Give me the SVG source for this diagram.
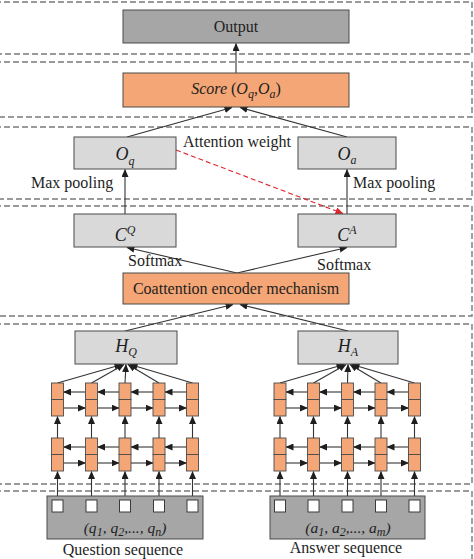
<svg xmlns="http://www.w3.org/2000/svg" width="474" height="559" viewBox="0 0 474 559">
<defs>
<marker id="ah" markerUnits="userSpaceOnUse" markerWidth="8" markerHeight="7" refX="7.5" refY="3.5" orient="auto">
<path d="M0,0 L8,3.5 L0,7 z" fill="#1e1e1e"/>
</marker>
<marker id="ahr" markerUnits="userSpaceOnUse" markerWidth="8" markerHeight="7" refX="7.5" refY="3.5" orient="auto">
<path d="M0,0 L8,3.5 L0,7 z" fill="#e0242c"/>
</marker>
</defs>
<style>
.band{fill:none;stroke:#7a7a7a;stroke-width:1.4;stroke-dasharray:6 3}
.dark{fill:#a6a6a6;stroke:#4a4a4a;stroke-width:1}
.light{fill:#d9d9d9;stroke:#4a4a4a;stroke-width:1}
.orange{fill:#f4a676;stroke:#4a4a4a;stroke-width:1}
.cell{fill:#f4a676;stroke:#4a4a4a;stroke-width:0.9}
.sq{fill:#ffffff;stroke:#3a3a3a;stroke-width:1}
.t{font-family:"Liberation Serif","Times New Roman",serif;font-size:16px;fill:#1e1e1e}
.big{font-size:18px}
.inp{font-size:15.5px}
.sub{font-size:12px}
.i{font-style:italic}
.c{text-anchor:middle}
.a{stroke:#333;stroke-width:1.1;fill:none;marker-end:url(#ah)}
.r{stroke:#e0242c;stroke-width:1.1;fill:none;stroke-dasharray:5 3;marker-end:url(#ahr)}
</style>
<rect width="474" height="559" fill="#ffffff"/>
<g id="bands">
<rect class="band" x="-5" y="2" width="477" height="52"/>
<rect class="band" x="-5" y="62" width="477" height="55"/>
<rect class="band" x="-5" y="127" width="477" height="72"/>
<rect class="band" x="-5" y="206" width="477" height="110"/>
<rect class="band" x="-5" y="324" width="477" height="160"/>
<rect class="band" x="-5" y="491" width="477" height="80"/>
</g>
<g id="connectors">
<line class="a" x1="236" y1="73" x2="236" y2="43.5"/>
<line class="a" x1="127" y1="137" x2="232" y2="107.5"/>
<line class="a" x1="347" y1="137" x2="240" y2="107.5"/>
<line class="a" x1="125" y1="214" x2="125" y2="169.5"/>
<line class="a" x1="347" y1="214" x2="347" y2="169.5"/>
<line class="r" x1="176" y1="150" x2="343" y2="213.5"/>
<line class="a" x1="237" y1="273" x2="127" y2="247.5"/>
<line class="a" x1="237" y1="273" x2="347" y2="247.5"/>
<line class="a" x1="125" y1="331" x2="233" y2="304.5"/>
<line class="a" x1="348" y1="331" x2="240" y2="304.5"/>
<g id="lstm-q-links">
<line class="a" x1="57.5" y1="383" x2="122" y2="364.5"/>
<line class="a" x1="91.5" y1="383" x2="124" y2="364.5"/>
<line class="a" x1="125" y1="383" x2="126" y2="364.5"/>
<line class="a" x1="159" y1="383" x2="128" y2="364.5"/>
<line class="a" x1="192.5" y1="383" x2="130" y2="364.5"/>
<line class="a" x1="85.5" y1="392" x2="63.5" y2="392"/>
<line class="a" x1="119" y1="392" x2="97.5" y2="392"/>
<line class="a" x1="153" y1="392" x2="131" y2="392"/>
<line class="a" x1="186.5" y1="392" x2="165" y2="392"/>
<line class="a" x1="63.5" y1="408" x2="85.5" y2="408"/>
<line class="a" x1="97.5" y1="408" x2="119" y2="408"/>
<line class="a" x1="131" y1="408" x2="153" y2="408"/>
<line class="a" x1="165" y1="408" x2="186.5" y2="408"/>
<line class="a" x1="85.5" y1="447" x2="63.5" y2="447"/>
<line class="a" x1="119" y1="447" x2="97.5" y2="447"/>
<line class="a" x1="153" y1="447" x2="131" y2="447"/>
<line class="a" x1="186.5" y1="447" x2="165" y2="447"/>
<line class="a" x1="63.5" y1="463" x2="85.5" y2="463"/>
<line class="a" x1="97.5" y1="463" x2="119" y2="463"/>
<line class="a" x1="131" y1="463" x2="153" y2="463"/>
<line class="a" x1="165" y1="463" x2="186.5" y2="463"/>
<line class="a" x1="57.5" y1="438" x2="57.5" y2="416.5"/>
<line class="a" x1="91.5" y1="438" x2="91.5" y2="416.5"/>
<line class="a" x1="125" y1="438" x2="125" y2="416.5"/>
<line class="a" x1="159" y1="438" x2="159" y2="416.5"/>
<line class="a" x1="192.5" y1="438" x2="192.5" y2="416.5"/>
<line class="a" x1="57.5" y1="500" x2="57.5" y2="471.5"/>
<line class="a" x1="91.5" y1="500" x2="91.5" y2="471.5"/>
<line class="a" x1="125" y1="500" x2="125" y2="471.5"/>
<line class="a" x1="159" y1="500" x2="159" y2="471.5"/>
<line class="a" x1="192.5" y1="500" x2="192.5" y2="471.5"/>
</g>
<g id="lstm-a-links">
<line class="a" x1="280" y1="383" x2="344" y2="364.5"/>
<line class="a" x1="313.5" y1="383" x2="346" y2="364.5"/>
<line class="a" x1="347.5" y1="383" x2="348" y2="364.5"/>
<line class="a" x1="381" y1="383" x2="350" y2="364.5"/>
<line class="a" x1="414.5" y1="383" x2="352" y2="364.5"/>
<line class="a" x1="307.5" y1="392" x2="286" y2="392"/>
<line class="a" x1="341.5" y1="392" x2="319.5" y2="392"/>
<line class="a" x1="375" y1="392" x2="353.5" y2="392"/>
<line class="a" x1="408.5" y1="392" x2="387" y2="392"/>
<line class="a" x1="286" y1="408" x2="307.5" y2="408"/>
<line class="a" x1="319.5" y1="408" x2="341.5" y2="408"/>
<line class="a" x1="353.5" y1="408" x2="375" y2="408"/>
<line class="a" x1="387" y1="408" x2="408.5" y2="408"/>
<line class="a" x1="307.5" y1="447" x2="286" y2="447"/>
<line class="a" x1="341.5" y1="447" x2="319.5" y2="447"/>
<line class="a" x1="375" y1="447" x2="353.5" y2="447"/>
<line class="a" x1="408.5" y1="447" x2="387" y2="447"/>
<line class="a" x1="286" y1="463" x2="307.5" y2="463"/>
<line class="a" x1="319.5" y1="463" x2="341.5" y2="463"/>
<line class="a" x1="353.5" y1="463" x2="375" y2="463"/>
<line class="a" x1="387" y1="463" x2="408.5" y2="463"/>
<line class="a" x1="280" y1="438" x2="280" y2="416.5"/>
<line class="a" x1="313.5" y1="438" x2="313.5" y2="416.5"/>
<line class="a" x1="347.5" y1="438" x2="347.5" y2="416.5"/>
<line class="a" x1="381" y1="438" x2="381" y2="416.5"/>
<line class="a" x1="414.5" y1="438" x2="414.5" y2="416.5"/>
<line class="a" x1="280" y1="500" x2="280" y2="471.5"/>
<line class="a" x1="313.5" y1="500" x2="313.5" y2="471.5"/>
<line class="a" x1="347.5" y1="500" x2="347.5" y2="471.5"/>
<line class="a" x1="381" y1="500" x2="381" y2="471.5"/>
<line class="a" x1="414.5" y1="500" x2="414.5" y2="471.5"/>
</g>
</g>
<g id="output">
<rect class="dark" x="123" y="10" width="226" height="33"/>
<text class="t c" x="236" y="31.5">Output</text>
</g>
<g id="score">
<rect class="orange" x="123" y="73" width="226" height="34"/>
<text class="t c" x="236" y="94"><tspan class="i">Score</tspan> (<tspan class="i">O</tspan><tspan class="i sub" dy="4">q</tspan><tspan dy="-4">,</tspan><tspan class="i">O</tspan><tspan class="i sub" dy="4">a</tspan><tspan dy="-4">)</tspan></text>
</g>
<g id="oq">
<rect class="light" x="74" y="137" width="102" height="32"/>
<text class="t c big" x="125" y="159.5"><tspan class="i">O</tspan><tspan class="i sub" dy="5">q</tspan></text>
</g>
<g id="oa">
<rect class="light" x="298" y="137" width="98" height="32"/>
<text class="t c big" x="347" y="159.5"><tspan class="i">O</tspan><tspan class="i sub" dy="4">a</tspan></text>
</g>
<g id="cq">
<rect class="light" x="74" y="214" width="102" height="33"/>
<text class="t c big" x="125" y="240.5"><tspan class="i">C</tspan><tspan class="i sub" dy="-7">Q</tspan></text>
</g>
<g id="ca">
<rect class="light" x="298" y="214" width="98" height="33"/>
<text class="t c big" x="347" y="240.5"><tspan class="i">C</tspan><tspan class="i sub" dy="-7">A</tspan></text>
</g>
<g id="coattention">
<rect class="orange" x="123" y="273" width="226" height="31"/>
<text class="t c" x="236" y="294">Coattention encoder mechanism</text>
</g>
<g id="hq">
<rect class="light" x="75" y="331" width="102" height="33"/>
<text class="t c big" x="126" y="352"><tspan class="i">H</tspan><tspan class="i sub" dy="4">Q</tspan></text>
</g>
<g id="ha">
<rect class="light" x="298" y="331" width="100" height="33"/>
<text class="t c big" x="348" y="352"><tspan class="i">H</tspan><tspan class="i sub" dy="4">A</tspan></text>
</g>
<g id="labels">
<text class="t" x="183" y="147">Attention weight</text>
<text class="t" x="31" y="188">Max pooling</text>
<text class="t" x="353" y="188">Max pooling</text>
<text class="t" x="128" y="266">Softmax</text>
<text class="t" x="317" y="270">Softmax</text>
</g>
<g id="lstm-q">
<rect class="cell" x="51.5" y="383" width="12" height="16.5"/><rect class="cell" x="51.5" y="399.5" width="12" height="16.5"/>
<rect class="cell" x="85.5" y="383" width="12" height="16.5"/><rect class="cell" x="85.5" y="399.5" width="12" height="16.5"/>
<rect class="cell" x="119" y="383" width="12" height="16.5"/><rect class="cell" x="119" y="399.5" width="12" height="16.5"/>
<rect class="cell" x="153" y="383" width="12" height="16.5"/><rect class="cell" x="153" y="399.5" width="12" height="16.5"/>
<rect class="cell" x="186.5" y="383" width="12" height="16.5"/><rect class="cell" x="186.5" y="399.5" width="12" height="16.5"/>
<rect class="cell" x="51.5" y="438" width="12" height="16.5"/><rect class="cell" x="51.5" y="454.5" width="12" height="16.5"/>
<rect class="cell" x="85.5" y="438" width="12" height="16.5"/><rect class="cell" x="85.5" y="454.5" width="12" height="16.5"/>
<rect class="cell" x="119" y="438" width="12" height="16.5"/><rect class="cell" x="119" y="454.5" width="12" height="16.5"/>
<rect class="cell" x="153" y="438" width="12" height="16.5"/><rect class="cell" x="153" y="454.5" width="12" height="16.5"/>
<rect class="cell" x="186.5" y="438" width="12" height="16.5"/><rect class="cell" x="186.5" y="454.5" width="12" height="16.5"/>
</g>
<g id="lstm-a">
<rect class="cell" x="274" y="383" width="12" height="16.5"/><rect class="cell" x="274" y="399.5" width="12" height="16.5"/>
<rect class="cell" x="307.5" y="383" width="12" height="16.5"/><rect class="cell" x="307.5" y="399.5" width="12" height="16.5"/>
<rect class="cell" x="341.5" y="383" width="12" height="16.5"/><rect class="cell" x="341.5" y="399.5" width="12" height="16.5"/>
<rect class="cell" x="375" y="383" width="12" height="16.5"/><rect class="cell" x="375" y="399.5" width="12" height="16.5"/>
<rect class="cell" x="408.5" y="383" width="12" height="16.5"/><rect class="cell" x="408.5" y="399.5" width="12" height="16.5"/>
<rect class="cell" x="274" y="438" width="12" height="16.5"/><rect class="cell" x="274" y="454.5" width="12" height="16.5"/>
<rect class="cell" x="307.5" y="438" width="12" height="16.5"/><rect class="cell" x="307.5" y="454.5" width="12" height="16.5"/>
<rect class="cell" x="341.5" y="438" width="12" height="16.5"/><rect class="cell" x="341.5" y="454.5" width="12" height="16.5"/>
<rect class="cell" x="375" y="438" width="12" height="16.5"/><rect class="cell" x="375" y="454.5" width="12" height="16.5"/>
<rect class="cell" x="408.5" y="438" width="12" height="16.5"/><rect class="cell" x="408.5" y="454.5" width="12" height="16.5"/>
</g>
<g id="question-input">
<rect class="dark" x="47" y="496" width="156" height="43"/>
<rect class="sq" x="52" y="500" width="11" height="12"/>
<rect class="sq" x="86" y="500" width="11" height="12"/>
<rect class="sq" x="119.5" y="500" width="11" height="12"/>
<rect class="sq" x="153.5" y="500" width="11" height="12"/>
<rect class="sq" x="187" y="500" width="11" height="12"/>
<text class="t c i inp" x="125" y="533">(q<tspan class="sub" dy="3">1</tspan><tspan dy="-3">, q</tspan><tspan class="sub" dy="3">2</tspan><tspan dy="-3">,..., q</tspan><tspan class="sub" dy="3">n</tspan><tspan dy="-3">)</tspan></text>
<text class="t c" x="123" y="555">Question sequence</text>
</g>
<g id="answer-input">
<rect class="dark" x="270" y="496" width="155" height="43"/>
<rect class="sq" x="274.5" y="500" width="11" height="12"/>
<rect class="sq" x="308" y="500" width="11" height="12"/>
<rect class="sq" x="342" y="500" width="11" height="12"/>
<rect class="sq" x="375.5" y="500" width="11" height="12"/>
<rect class="sq" x="409" y="500" width="11" height="12"/>
<text class="t c i inp" x="348" y="533">(a<tspan class="sub" dy="3">1</tspan><tspan dy="-3">, a</tspan><tspan class="sub" dy="3">2</tspan><tspan dy="-3">,..., a</tspan><tspan class="sub" dy="3">m</tspan><tspan dy="-3">)</tspan></text>
<text class="t c" x="346" y="553">Answer sequence</text>
</g>
</svg>
